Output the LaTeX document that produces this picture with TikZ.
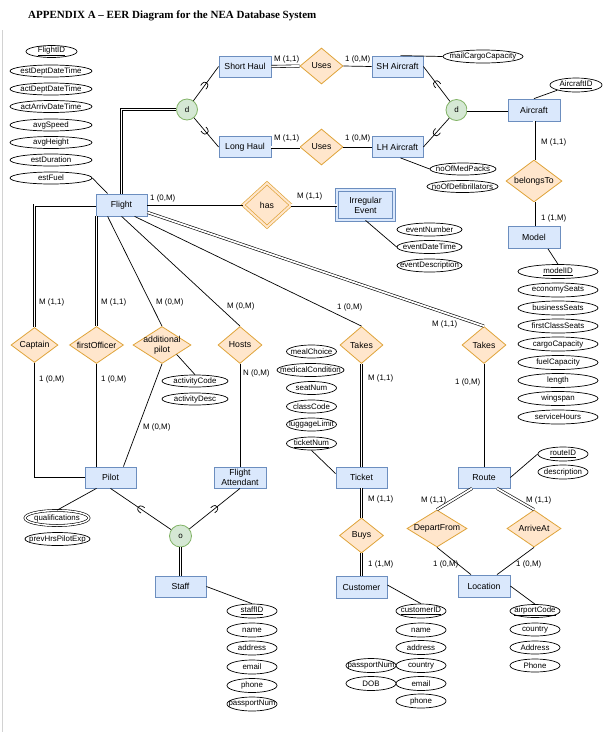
\documentclass[tikz,border=0pt]{standalone}
\usepackage{fontspec}
\setmainfont{Liberation Sans}
\newfontfamily\titlefont{Liberation Serif}
\usetikzlibrary{shapes.geometric,decorations.markings}
\definecolor{entF}{HTML}{DAE8FC}
\definecolor{entB}{HTML}{6C8EBF}
\definecolor{relF}{HTML}{FFE6CC}
\definecolor{relB}{HTML}{DFA43A}
\definecolor{circF}{HTML}{D5E8D4}
\definecolor{circB}{HTML}{82B366}
\begin{document}
\begin{tikzpicture}[x=1pt,y=-1pt,
  ent/.style={rectangle, draw=entB, fill=entF, line width=0.8pt, inner sep=0pt, font=\fontsize{8.7}{10}\selectfont, align=center},
  rtxt/.style={font=\fontsize{8.7}{10}\selectfont, align=center, inner sep=0pt},
  rel/.style={diamond, draw=relB, fill=relF, line width=0.8pt, inner sep=0pt, label={[rtxt]center:#1}},
  atxt/.style={font=\fontsize{7.9}{9}\selectfont, inner sep=0pt},
  attr/.style={ellipse, draw, line width=0.7pt, fill=white, inner sep=0pt, minimum height=13pt, label={[atxt]center:#1}},
  lbl/.style={font=\fontsize{7.9}{9}\selectfont, inner sep=0pt, anchor=west},
  spc/.style={circle, draw=circB, fill=circF, line width=0.8pt, inner sep=0pt, minimum size=21pt, font=\fontsize{8}{9}\selectfont},
  conn/.style={line width=0.7pt},
  dbl/.style={line width=0.6pt, double, double distance=1.8pt},
  subm/.style={postaction={decorate, decoration={markings, mark=at position #1 with {\draw[line width=0.7pt] (-2.5pt,3.2pt) -- (0pt,3.2pt) arc[start angle=90, end angle=-90, radius=3.2pt] -- (-2.5pt,-3.2pt);}}}}
]
\useasboundingbox (0,0) rectangle (611,732);
\fill[white] (0,0) rectangle (611,732);
\draw[gray!35, line width=0.8pt] (2.5,30) -- (2.5,732);

\node[anchor=west, font=\titlefont\bfseries\fontsize{11}{13}\selectfont, inner sep=0pt] (title) at (28,16) {APPENDIX A – EER Diagram for the NEA Database System};

% entities
\node[ent, minimum width=52pt, minimum height=21pt] (shorthaul) at (245,66.5) {Short Haul};
\node[ent, minimum width=52pt, minimum height=21pt] (longhaul) at (245,147) {Long Haul};
\node[ent, minimum width=51pt, minimum height=21pt] (sha) at (397.5,66.5) {SH Aircraft};
\node[ent, minimum width=51pt, minimum height=21pt] (lha) at (397.5,147) {LH Aircraft};
\node[ent, minimum width=52pt, minimum height=22pt] (aircraft) at (534,110) {Aircraft};
\node[ent, minimum width=52pt, minimum height=22pt] (model) at (534,237.5) {Model};
\node[ent, minimum width=51pt, minimum height=22pt] (flight) at (121.5,205) {Flight};
\node[ent, minimum width=57pt, minimum height=30pt, double=entF, double distance=2pt, line width=0.7pt] (irreg) at (365.5,205) {Irregular\\Event};
\node[ent, minimum width=51pt, minimum height=21pt] (pilot) at (110.5,477.5) {Pilot};
\node[ent, minimum width=52pt, minimum height=21pt] (fa) at (240,477.5) {Flight\\Attendant};
\node[ent, minimum width=51pt, minimum height=21pt] (ticket) at (361.5,477.5) {Ticket};
\node[ent, minimum width=52pt, minimum height=21pt] (route) at (484,477.5) {Route};
\node[ent, minimum width=51pt, minimum height=21pt] (staff) at (180.5,586.5) {Staff};
\node[ent, minimum width=51pt, minimum height=22pt] (customer) at (361.5,587) {Customer};
\node[ent, minimum width=52pt, minimum height=22pt] (location) at (484,586) {Location};

% relationships
\node[rel=Uses, minimum width=43pt, minimum height=36pt] (uses1) at (321.5,66) {};
\node[rel=Uses, minimum width=43pt, minimum height=36pt] (uses2) at (321.5,147) {};
\node[rel=belongsTo, minimum width=56pt, minimum height=42pt] (belongs) at (534,181) {};
\node[rel=has, minimum width=48pt, minimum height=44pt, double=relF, double distance=2pt, line width=0.7pt] (has) at (267,205) {};
\node[rel=Captain, minimum width=47pt, minimum height=35pt] (captain) at (34.5,345) {};
\node[rel=firstOfficer, minimum width=54pt, minimum height=37pt] (fo) at (96.5,345) {};
\node[rel={additional\\pilot}, minimum width=58pt, minimum height=37pt] (addp) at (162,345) {};
\node[rel=Hosts, minimum width=44pt, minimum height=37pt] (hosts) at (240,345) {};
\node[rel=Takes, minimum width=43pt, minimum height=37pt] (takest) at (361.5,345) {};
\node[rel=Takes, minimum width=44pt, minimum height=37pt] (takesr) at (484,345) {};
\node[rel=Buys, minimum width=44pt, minimum height=35pt] (buys) at (361.5,535.5) {};
\node[rel=DepartFrom, minimum width=60pt, minimum height=37pt] (depart) at (437,528.5) {};
\node[rel=ArriveAt, minimum width=54pt, minimum height=37pt] (arrive) at (534,528.5) {};

% specialisation circles
\node[spc] (d1) at (187,109.5) {d};
\node[spc] (d2) at (456.5,110) {d};
\node[spc, minimum size=22pt] (o) at (180.5,536) {o};

% Flight attributes
\node[attr=\underline{FlightID}, minimum width=51pt, minimum height=12pt] (aFlightID) at (51.5,51.5) {};
\node[attr=estDeptDateTime, minimum width=82pt, minimum height=12pt] (aEstDept) at (51,71) {};
\node[attr=actDeptDateTime, minimum width=82pt, minimum height=12pt] (aActDept) at (51,89) {};
\node[attr=actArrivDateTime, minimum width=82pt, minimum height=12pt] (aActArr) at (51,106.5) {};
\node[attr=avgSpeed, minimum width=82pt, minimum height=12pt] (aAvgSpeed) at (51,125) {};
\node[attr=avgHeight, minimum width=82pt, minimum height=12pt] (aAvgHeight) at (51,142.5) {};
\node[attr=estDuration, minimum width=82pt, minimum height=12pt] (aEstDur) at (51,160) {};
\node[attr=estFuel, minimum width=82pt, minimum height=12pt] (aEstFuel) at (51,178) {};

% aircraft attributes
\node[attr=mailCargoCapacity, minimum width=80pt] (aMail) at (483,56.5) {};
\node[attr=\underline{AircraftID}, minimum width=52pt, minimum height=14pt] (aAircraftID) at (576,85) {};
\node[attr=noOfMedPacks, minimum width=66pt, minimum height=12pt] (aMed) at (463,169) {};
\node[attr=noOfDefibrillators, minimum width=71pt, minimum height=12pt] (aDefib) at (462.5,186.5) {};

% irregular event attributes
\node[attr=eventNumber, minimum width=65pt] (aEvNum) at (429.5,229.5) {};
\node[attr=eventDateTime, minimum width=65pt] (aEvDT) at (429.5,247) {};
\node[attr=eventDescription, minimum width=65pt] (aEvDesc) at (429.5,265.5) {};

% model attributes
\node[attr=\underline{modelID}, minimum width=80pt, minimum height=14pt] (aModelID) at (558,271.5) {};
\node[attr=economySeats, minimum width=80pt, minimum height=14pt] (aEco) at (558,290) {};
\node[attr=businessSeats, minimum width=80pt, minimum height=14pt] (aBus) at (558,308) {};
\node[attr=firstClassSeats, minimum width=80pt, minimum height=14pt] (aFirst) at (558,326) {};
\node[attr=cargoCapacity, minimum width=80pt, minimum height=14pt] (aCargo) at (558,344) {};
\node[attr=fuelCapacity, minimum width=80pt, minimum height=14pt] (aFuel) at (558,362.5) {};
\node[attr=length, minimum width=80pt, minimum height=14pt] (aLen) at (558,380.5) {};
\node[attr=wingspan, minimum width=80pt, minimum height=14pt] (aWing) at (558,398.5) {};
\node[attr=serviceHours, minimum width=80pt, minimum height=14pt] (aServ) at (558,417) {};

% additional pilot attributes
\node[attr=activityCode, minimum width=66pt, minimum height=12pt] (aActCode) at (195,381) {};
\node[attr=activityDesc, minimum width=66pt, minimum height=12pt] (aActDesc) at (195,399) {};

% ticket attributes
\node[attr=mealChoice, minimum width=50pt] (aMeal) at (311.5,351.5) {};
\node[attr=medicalCondition, minimum width=67pt] (aMedCond) at (310.5,370) {};
\node[attr=seatNum, minimum width=50pt] (aSeat) at (311.5,388) {};
\node[attr=classCode, minimum width=50pt] (aClass) at (311.5,406.5) {};
\node[attr=luggageLimit, minimum width=50pt] (aLug) at (311.5,424.5) {};
\node[attr=\underline{ticketNum}, minimum width=50pt] (aTicketNum) at (311.5,443.5) {};

% pilot attributes
\node[attr=qualifications, minimum width=64pt, minimum height=15pt, double, double distance=1.5pt, line width=0.6pt] (aQual) at (57,518) {};
\node[attr=prevHrsPilotExp, minimum width=65pt] (aPrev) at (57.5,539) {};

% staff attributes
\node[attr=\underline{staffID}, minimum width=50pt, minimum height=14pt] (aStaffID) at (252,611) {};
\node[attr=name, minimum width=50pt, minimum height=14pt] (aSName) at (252,630) {};
\node[attr=address, minimum width=50pt, minimum height=14pt] (aSAddr) at (252,648) {};
\node[attr=email, minimum width=50pt, minimum height=14pt] (aSEmail) at (252,667) {};
\node[attr=phone, minimum width=50pt, minimum height=14pt] (aSPhone) at (252,685.5) {};
\node[attr=passportNum, minimum width=50pt, minimum height=14pt] (aSPass) at (252,704) {};

% customer attributes
\node[attr=\underline{customerID}, minimum width=50pt, minimum height=14pt] (aCustID) at (421,611) {};
\node[attr=name, minimum width=50pt, minimum height=14pt] (aCName) at (421,630) {};
\node[attr=address, minimum width=50pt, minimum height=14pt] (aCAddr) at (421,647.5) {};
\node[attr=country, minimum width=50pt, minimum height=14pt] (aCCountry) at (421,665.5) {};
\node[attr=email, minimum width=50pt, minimum height=14pt] (aCEmail) at (421,683.5) {};
\node[attr=phone, minimum width=50pt, minimum height=14pt] (aCPhone) at (421,701) {};
\node[attr=passportNum, minimum width=50pt, minimum height=14pt] (aCPass) at (371,665.5) {};
\node[attr=DOB, minimum width=50pt, minimum height=14pt] (aCDOB) at (371,683.5) {};

% route attributes
\node[attr=\underline{routeID}, minimum width=50pt, minimum height=14pt] (aRouteID) at (563,454) {};
\node[attr=description, minimum width=50pt, minimum height=14pt] (aDesc) at (563,472) {};

% location attributes
\node[attr=\underline{airportCode}, minimum width=50pt] (aAirport) at (535,611) {};
\node[attr=country, minimum width=50pt] (aLCountry) at (535,629.5) {};
\node[attr=Address, minimum width=50pt] (aLAddr) at (535,647.5) {};
\node[attr=Phone, minimum width=50pt] (aLPhone) at (535,665.5) {};

% connectors: top
\draw[dbl] (flight.north) |- (d1.west);
\draw[conn, subm=0.45] (d1) -- (shorthaul.west);
\draw[conn, subm=0.45] (d1) -- (longhaul.west);
\draw[dbl] (shorthaul.east) -- (uses1.west);
\draw[conn] (uses1.east) -- (sha.west);
\draw[dbl] (longhaul.east) -- (uses2.west);
\draw[conn] (uses2.east) -- (lha.west);
\draw[conn, subm=0.5] (d2) -- (sha.east);
\draw[conn, subm=0.5] (d2) -- (lha.east);
\draw[dbl] (d2) -- (aircraft);
\draw[conn] ([xshift=3pt]sha.north) -- (aMail.west);
\draw[conn] ([xshift=3pt]lha.south) -- (aMed.west);
\draw[conn] (aircraft.north) -- (aAircraftID.south west);
\draw[dbl] (aircraft.south) -- (belongs.north);
\draw[dbl] (belongs.south) -- (model.north);
\draw[conn] ([xshift=14pt]model.south) -- (aModelID.north);
\draw[conn] (aEstFuel.east) -- ([xshift=12pt]flight.north west);

% Flight relationships
\draw[conn] (flight.east) -- (has.west);
\draw[dbl] (has.east) -- (irreg.west);
\draw[conn] (irreg.south) -- (aEvDT.west);
\draw[dbl] (flight.west) -| (captain.north);
\draw[dbl] (flight.south west -| fo.north) -- (fo.north);
\draw[conn] ([xshift=12pt]flight.south west) -- (addp.north);
\draw[conn] ([xshift=26pt]flight.south west) -- (hosts.north);
\draw[conn] ([xshift=39pt]flight.south west) -- (takest.north);
\draw[dbl] ([yshift=4pt]flight.south east) -- (takesr.north);

% lower part
\draw[conn] (captain.south) |- (pilot.west);
\draw[conn] (fo.south) -- (fo.south |- pilot.north);
\draw[conn] (addp.south) -- ([xshift=-13pt]pilot.north east);
\draw[conn] (addp.south east) -- (aActCode.north);
\draw[conn] (hosts.south) -- (fa.north);
\draw[dbl] (takest.south) -- (ticket.north);
\draw[conn] (aTicketNum.south) -- ([yshift=-7pt]ticket.north west);
\draw[dbl] (ticket.south) -- (buys.north);
\draw[dbl] (buys.south) -- (customer.north);
\draw[conn] ([yshift=2pt]customer.east) -- (aCustID.north);
\draw[conn] (takesr.south) -- (route.north);
\draw[conn] (route.east) -- (aRouteID.west);
\draw[dbl] ([xshift=-12pt]route.south) -- (depart.north);
\draw[dbl] ([xshift=13pt]route.south) -- (arrive.north);
\draw[conn] (depart.south) -- ([xshift=-13pt]location.north);
\draw[conn] (arrive.south) -- ([xshift=13pt]location.north);
\draw[conn] (location.east) -- (aAirport.north);
\draw[conn] ([xshift=-14pt]pilot.south) -- (aQual.north);
\draw[conn, subm=0.5] (o) -- (pilot.south);
\draw[conn, subm=0.5] (o) -- (fa.south);
\draw[dbl] (o) -- (staff);
\draw[conn] (staff.east) -- (aStaffID.north);

% cardinality labels
\node[lbl] (lsh1) at (274,59) {M (1,1)};
\node[lbl] (lsh2) at (345,59) {1 (0,M)};
\node[lbl] (llh1) at (274,138.5) {M (1,1)};
\node[lbl] (llh2) at (345,138.5) {1 (0,M)};
\node[lbl] (lac1) at (541,142) {M (1,1)};
\node[lbl] (lac2) at (541,218) {1 (1,M)};
\node[lbl] (lfl) at (150,198) {1 (0,M)};
\node[lbl] (lhas) at (297,196) {M (1,1)};
\node[lbl] (lcap1) at (39,302) {M (1,1)};
\node[lbl] (lcap2) at (39,379) {1 (0,M)};
\node[lbl] (lfo1) at (101,302) {M (1,1)};
\node[lbl] (lfo2) at (101,379) {1 (0,M)};
\node[lbl] (lap1) at (156,302) {M (0,M)};
\node[lbl] (lap2) at (143,427) {M (0,M)};
\node[lbl] (lho1) at (227,306) {M (0,M)};
\node[lbl] (lho2) at (243,373) {N (0,M)};
\node[lbl] (ltt1) at (337,307) {1 (0,M)};
\node[lbl] (ltt2) at (368,378) {M (1,1)};
\node[lbl] (ltr1) at (432,324) {M (1,1)};
\node[lbl] (ltr2) at (455,382) {1 (0,M)};
\node[lbl] (ltk) at (368,499) {M (1,1)};
\node[lbl] (lbu) at (368,564) {1 (1,M)};
\node[lbl] (lro1) at (421,500) {M (1,1)};
\node[lbl] (lro2) at (526,500) {M (1,1)};
\node[lbl] (llo1) at (433,564) {1 (0,M)};
\node[lbl] (llo2) at (516,564) {1 (0,M)};
\end{tikzpicture}
\end{document}
